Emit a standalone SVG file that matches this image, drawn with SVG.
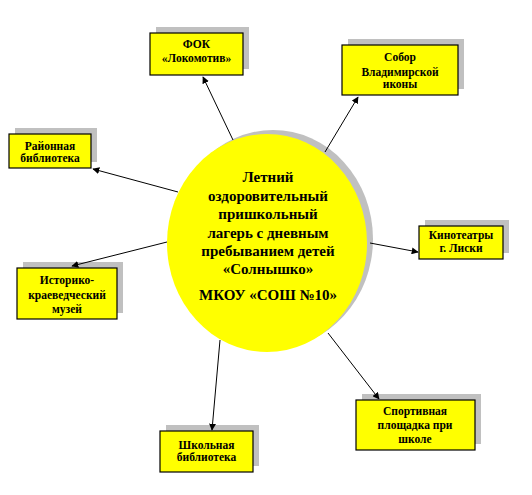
<svg xmlns="http://www.w3.org/2000/svg" width="532" height="495" viewBox="0 0 532 495">
<defs>
<style>
.sh{fill:#c0c0c0;stroke:none}
.bx{fill:#ffff00;stroke:#000;stroke-width:1.2}
.t{font-family:"Liberation Serif","DejaVu Serif",serif;font-weight:bold;font-size:11.5px;fill:#000;text-anchor:middle}
.c{font-family:"Liberation Serif","DejaVu Serif",serif;font-weight:bold;font-size:15px;fill:#000;text-anchor:middle}
.ln{stroke:#000;stroke-width:1;fill:none;marker-end:url(#ah)}
</style>
<marker id="ah" viewBox="0 0 10 10" refX="9" refY="5" markerWidth="7" markerHeight="7" markerUnits="userSpaceOnUse" orient="auto">
<path d="M0,0 L10,5 L0,10 z" fill="#000"/>
</marker>
</defs>
<rect width="532" height="495" fill="#fff"/>
<g id="center">
<ellipse class="sh" cx="273" cy="239" rx="100" ry="109"/>
<ellipse cx="267" cy="243" rx="100" ry="109" fill="#ffff00"/>
<text class="c" x="268" y="182">Летний</text>
<text class="c" x="268" y="201">оздоровительный</text>
<text class="c" x="268" y="219">пришкольный</text>
<text class="c" x="268" y="238">лагерь с дневным</text>
<text class="c" x="268" y="256">пребыванием детей</text>
<text class="c" x="268" y="274">«Солнышко»</text>
<text class="c" x="268" y="300">МКОУ «СОШ  №10»</text>
</g>
<g id="fok">
<rect class="sh" x="156" y="27" width="93" height="42"/>
<rect class="bx" x="150" y="33" width="93" height="42"/>
<text class="t" x="196.5" y="48">ФОК</text>
<text class="t" x="196.5" y="62">«Локомотив»</text>
</g>
<g id="sobor">
<rect class="sh" x="348" y="39" width="116" height="50"/>
<rect class="bx" x="342" y="45" width="116" height="50"/>
<text class="t" x="400" y="61">Собор</text>
<text class="t" x="400" y="76">Владимирской</text>
<text class="t" x="400" y="88">иконы</text>
</g>
<g id="raion">
<rect class="sh" x="15" y="128" width="82" height="34"/>
<rect class="bx" x="9" y="134" width="82" height="34"/>
<text class="t" x="50" y="150">Районная</text>
<text class="t" x="50" y="162">библиотека</text>
</g>
<g id="kino">
<rect class="sh" x="425" y="220" width="84" height="33"/>
<rect class="bx" x="419" y="226" width="84" height="33"/>
<text class="t" x="461" y="239">Кинотеатры</text>
<text class="t" x="461" y="252">г. Лиски</text>
</g>
<g id="muzei">
<rect class="sh" x="23" y="262" width="100" height="51"/>
<rect class="bx" x="17" y="268" width="100" height="51"/>
<text class="t" x="67" y="284">Историко-</text>
<text class="t" x="67" y="299">краеведческий</text>
<text class="t" x="67" y="313">музей</text>
</g>
<g id="sport">
<rect class="sh" x="362" y="394" width="119" height="50"/>
<rect class="bx" x="356" y="400" width="119" height="50"/>
<text class="t" x="415" y="415">Спортивная</text>
<text class="t" x="415" y="429">площадка при</text>
<text class="t" x="415" y="443">школе</text>
</g>
<g id="shkol">
<rect class="sh" x="166" y="425" width="93" height="41"/>
<rect class="bx" x="160" y="431" width="93" height="41"/>
<text class="t" x="206.5" y="449">Школьная</text>
<text class="t" x="206.5" y="461">библиотека</text>
</g>
<g id="connectors">
<line class="ln" x1="233" y1="140" x2="203" y2="77"/>
<line class="ln" x1="325" y1="152" x2="358" y2="97"/>
<line class="ln" x1="178" y1="192" x2="93" y2="169"/>
<line class="ln" x1="370" y1="243" x2="418" y2="252"/>
<line class="ln" x1="167" y1="242" x2="72" y2="266"/>
<line class="ln" x1="328" y1="333" x2="379" y2="399"/>
<line class="ln" x1="220" y1="340" x2="212" y2="430"/>
</g>
</svg>
